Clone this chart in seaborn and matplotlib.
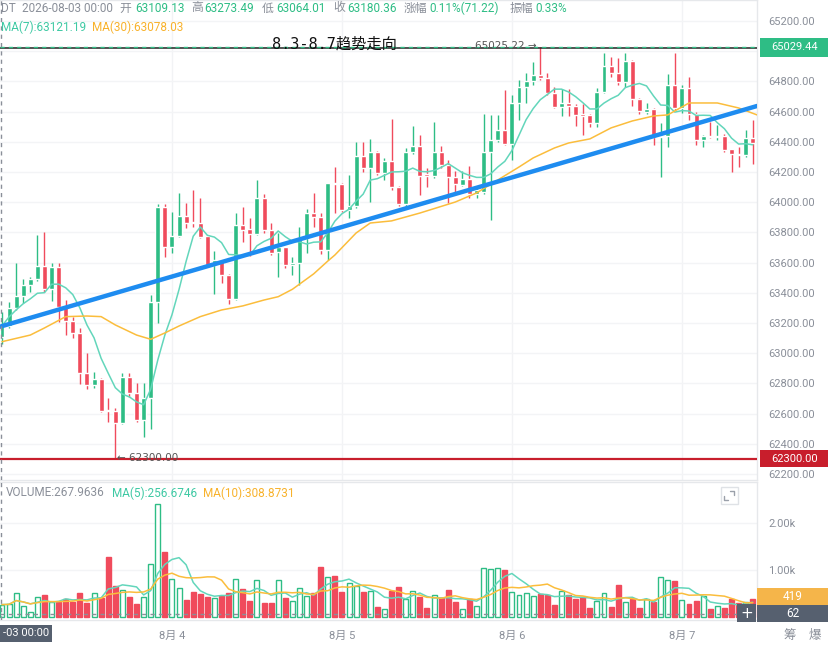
import numpy as np
import pandas as pd
import matplotlib
matplotlib.use('Agg')
import matplotlib.pyplot as plt
from matplotlib.patches import Rectangle
from matplotlib.lines import Line2D
import seaborn as sns

# hourly candles from 2026-08-03 00:00
opens = [63109.13, 63180, 63300, 63380, 63450, 63490, 63580, 63425, 63570, 63305,
         63210, 63135, 62870, 62790, 62830, 62625, 62615, 62540, 62840, 62735,
         62560, 62700, 63340, 63970, 63700, 63775, 63910, 63870, 63860, 63775,
         63585, 63615, 63520, 63360, 63850, 63820, 63790, 64030, 63815, 63670,
         63700, 63585, 63600, 63765, 63930, 63900, 63680, 64130, 64120, 63945,
         63975, 64305, 64225, 64335, 64190, 64275, 64100, 63985, 64330, 64370,
         64185, 64175, 64330, 64245, 64165, 64115, 64155, 64055, 64070, 64330,
         64410, 64480, 64385, 64655, 64765, 64800, 64845, 64820, 64725, 64630,
         64655, 64635, 64585, 64575, 64525, 64730, 64900, 64855, 64795, 64935,
         64685, 64600, 64615, 64430, 64440, 64775, 64625, 64755, 64585, 64415,
         64440, 64430, 64440, 64350, 64320, 64310, 64425]
highs = [63273.49, 63340, 63600, 63490, 63505, 63780, 63800, 63600, 63600, 63350,
         63240, 63165, 63000, 62875, 62835, 62700, 62640, 62870, 62870, 62800,
         62800, 63385, 63985, 63990, 63935, 64060, 63995, 64080, 64030, 63780,
         63675, 63620, 63525, 63930, 63970, 63895, 64150, 64055, 63860, 63795,
         63705, 63635, 63835, 63955, 64060, 63930, 64130, 64235, 64130, 64180,
         64400, 64400, 64420, 64340, 64295, 64550, 64110, 64360, 64505, 64445,
         64225, 64530, 64370, 64280, 64205, 64205, 64240, 64095, 64585, 64580,
         64580, 64745, 64710, 64810, 64855, 64930, 65025.22, 64855, 64760, 64750,
         64750, 64650, 64650, 64585, 64755, 64990, 64960, 64955, 64990, 64940,
         64690, 64655, 64625, 64525, 64850, 64990, 64775, 64830, 64595, 64445,
         64530, 64510, 64450, 64355, 64365, 64480, 64545]
lows = [63064.01, 63165, 63285, 63335, 63405, 63480, 63405, 63345, 63205, 63120,
        63100, 62795, 62760, 62770, 62610, 62545, 62300, 62530, 62710, 62545,
        62445, 62500, 63200, 63640, 63665, 63770, 63830, 63835, 63765, 63570,
        63390, 63465, 63325, 63355, 63735, 63645, 63785, 63795, 63650, 63505,
        63565, 63520, 63450, 63665, 63835, 63655, 63615, 63930, 63935, 63895,
        63960, 64200, 64000, 64180, 64150, 64080, 63975, 63970, 64320, 64050,
        64100, 64160, 64225, 63995, 64055, 64110, 64030, 64030, 64055, 63880,
        64400, 64380, 64280, 64545, 64655, 64775, 64810, 64710, 64625, 64570,
        64570, 64505, 64445, 64500, 64500, 64720, 64830, 64775, 64765, 64635,
        64585, 64585, 64380, 64170, 64365, 64610, 64590, 64545, 64380, 64365,
        64425, 64410, 64330, 64200, 64235, 64300, 64250]
closes = [63180.36, 63300, 63380, 63450, 63490, 63580, 63425, 63570, 63305, 63210,
          63135, 62870, 62790, 62830, 62620, 62615, 62540, 62840, 62735, 62560,
          62700, 63340, 63970, 63700, 63775, 63910, 63865, 63860, 63770, 63585,
          63615, 63520, 63360, 63850, 63815, 63790, 64030, 63815, 63665, 63700,
          63585, 63600, 63765, 63930, 63900, 63680, 64125, 64120, 63945, 63975,
          64305, 64225, 64330, 64190, 64275, 64100, 63985, 64330, 64370, 64175,
          64175, 64330, 64245, 64165, 64120, 64155, 64055, 64080, 64330, 64410,
          64480, 64385, 64655, 64765, 64800, 64845, 64820, 64725, 64630, 64655,
          64635, 64580, 64570, 64525, 64730, 64900, 64855, 64795, 64935, 64685,
          64605, 64615, 64430, 64440, 64775, 64625, 64755, 64585, 64410, 64440,
          64430, 64440, 64345, 64320, 64310, 64425, 64390]
volumes = [267.96, 280, 513, 240, 120, 436, 470, 330, 330, 380,
           330, 507, 296, 520, 402, 1268, 662, 577, 423, 281,
           423, 1120, 2395, 1374, 803, 613, 366, 528, 493, 436,
           402, 450, 520, 803, 598, 345, 789, 296, 296, 789,
           402, 345, 613, 450, 520, 1057, 859, 873, 528, 718,
           662, 528, 556, 211, 169, 556, 634, 387, 556, 436,
           190, 470, 402, 577, 330, 175, 380, 239, 1035, 1025,
           1035, 1000, 535, 470, 513, 450, 493, 470, 260, 556,
           470, 387, 436, 197, 344, 513, 218, 683, 323, 380,
           197, 380, 330, 859, 789, 767, 366, 281, 345, 450,
           175, 239, 197, 387, 296, 330, 387]

# MA(30) line
ma30_idx = [0, 4, 6, 9, 12, 14, 16, 19, 21, 23, 25, 28, 31, 34, 37, 39, 41, 44, 46, 47,
            50, 52, 55, 59, 64, 67, 70, 73, 75, 78, 80, 83, 86, 89, 92, 94, 97, 101, 104, 106.6]
ma30_val = [63076, 63120, 63167, 63242, 63246, 63242, 63187, 63120, 63092, 63134,
            63180, 63242, 63286, 63313, 63352, 63374, 63423, 63525, 63610, 63650,
            63796, 63862, 63876, 63928, 64001, 64061, 64147, 64233, 64293, 64359,
            64392, 64419, 64492, 64538, 64571, 64578, 64657, 64657, 64624, 64578]

trend_x = [-0.3, 106.6]
trend_y = [63175, 64637]
support_price = 62300.00
line_price = 65020
cross_price = 65029.44
high_price = 65025.22
cross_vol = 62
vol_ma_now = 419

day_idx = [24, 48, 72, 96]
day_labels = ['8月 4', '8月 5', '8月 6', '8月 7']
price_ticks = list(range(62200, 65201, 200))
vol_ticks = [1000, 2000]
vol_tick_labels = ['1.00k', '2.00k']

UP = '#2ebd85'
DOWN = '#f04b5c'
GRAY = '#8a8f99'
TEAL = '#63d6bb'
ORANGE = '#fbbd3c'
DARK = '#56606f'

df = pd.DataFrame({'o': opens, 'h': highs, 'l': lows, 'c': closes, 'v': volumes})
df['i'] = np.arange(len(df))
df['up'] = df['c'] >= df['o']
df['ma7'] = df['c'].rolling(7, min_periods=1).mean()
df['vma5'] = df['v'].rolling(5, min_periods=1).mean()
df['vma10'] = df['v'].rolling(10, min_periods=1).mean()

sns.set_style('white')
plt.rcParams['font.family'] = ['Roboto', 'Noto Sans CJK SC', 'DejaVu Sans']

W, H = 829, 650
fig = plt.figure(figsize=(W / 100, H / 100), dpi=100)


def px(x, y):
    return x / W, 1 - y / H


def label_box(x0, y0, x1, y1, fc, text, size=8.5, fam=None):
    fig.add_artist(Rectangle(px(x0, y1), (x1 - x0) / W, (y1 - y0) / H,
                             transform=fig.transFigure, fc=fc, ec='none', zorder=5))
    kw = {'family': fam} if fam else {}
    fig.text(*px((x0 + x1) / 2, (y0 + y1) / 2), text, color='white', fontsize=size,
             ha='center', va='center', zorder=6, **kw)


def fig_line(xs, ys, color, lw=1):
    pts = [px(x, y) for x, y in zip(xs, ys)]
    fig.add_artist(Line2D([p[0] for p in pts], [p[1] for p in pts], color=color, lw=lw,
                          transform=fig.transFigure, zorder=6))


plot_w = 757 / W
ax = fig.add_axes([0, 1 - 480 / H, plot_w, 480 / H])
axv = fig.add_axes([0, 1 - 620 / H, plot_w, 138 / H])

xlim = (-0.28, 106.6)
for a in (ax, axv):
    a.set_xlim(*xlim)
    for s in a.spines.values():
        s.set_color('#e6e8eb')
        s.set_linewidth(1)
    a.spines['left'].set_visible(False)
    a.yaxis.tick_right()
    a.tick_params(length=0, labelsize=8, labelcolor=GRAY, pad=8)
    for d in day_idx:
        a.axvline(d, color='#f2f3f5', lw=1, zorder=0)

ax.set_ylim(62160, 65339)
ax.set_yticks(price_ticks)
ax.set_yticklabels(['' if t == 65000 else f'{t:.2f}' for t in price_ticks])
for t in price_ticks:
    ax.axhline(t, color='#f3f4f6', lw=1, zorder=0)
ax.set_xticks([])

# candles
colors = np.where(df['up'], UP, DOWN)
ax.vlines(df['i'], df['l'], df['h'], colors=colors, lw=1, zorder=2)
body_low = np.minimum(df['o'], df['c'])
body_h = np.maximum(np.abs(df['c'] - df['o']), 6)
ax.bar(df['i'], body_h, bottom=body_low, width=0.7, color=colors, zorder=3)

sns.lineplot(x=df['i'], y=df['ma7'], ax=ax, color=TEAL, lw=1.1, zorder=4)
sns.lineplot(x=ma30_idx, y=ma30_val, ax=ax, color=ORANGE, lw=1.1, zorder=4)
sns.lineplot(x=trend_x, y=trend_y, ax=ax, color='#1e8cf0', lw=3.2, zorder=5)
ax.axhline(support_price, color='#c81e2c', lw=1.6, zorder=5)
ax.axhline(line_price, color='#222222', lw=1.1, zorder=5)
ax.axhline(cross_price, color=UP, lw=1, ls=(0, (3, 3)), zorder=5)
ax.axvline(-0.15, color=GRAY, lw=1, ls=(0, (3, 3)), zorder=6)
ax.set_xlabel('')
ax.set_ylabel('')

# volume
vcol = np.where(df['up'], UP, DOWN)
face = np.where(df['up'], 'white', DOWN)
axv.bar(df['i'], df['v'], width=0.7, color=face, edgecolor=vcol, lw=1, zorder=2)
sns.lineplot(x=df['i'], y=df['vma5'], ax=axv, color=TEAL, lw=1.1, zorder=4)
sns.lineplot(x=df['i'], y=df['vma10'], ax=axv, color=ORANGE, lw=1.1, zorder=4)
axv.set_ylim(-57, 2860)
axv.set_yticks(vol_ticks)
axv.set_yticklabels(vol_tick_labels)
for t in vol_ticks:
    axv.axhline(t, color='#f3f4f6', lw=1, zorder=0)
axv.axhline(cross_vol, color=GRAY, lw=1, ls=(0, (3, 3)), zorder=5)
axv.axvline(-0.15, color=GRAY, lw=1, ls=(0, (3, 3)), zorder=6)
axv.set_xticks(day_idx)
axv.set_xticklabels(day_labels)
axv.tick_params(axis='x', labelsize=8, labelcolor=GRAY, pad=8)
axv.set_xlabel('')
axv.set_ylabel('')

# header texts
hdr = [(1, 'DT', GRAY), (22, '2026-08-03 00:00', GRAY), (119, '开', GRAY),
       (135, f'{opens[0]:.2f}', UP), (191, '高', GRAY), (204, f'{highs[0]:.2f}', UP),
       (262, '低', GRAY), (276, f'{lows[0]:.2f}', UP), (333, '收', GRAY),
       (347, f'{closes[0]:.2f}', UP), (404, '涨幅', GRAY), (429, '0.11%(71.22)', UP),
       (510, '振幅', GRAY), (535, '0.33%', UP)]
for x, s, c in hdr:
    fig.text(*px(x, 8), s, color=c, fontsize=8.5, ha='left', va='center')
fig.text(*px(1, 27), 'MA(7):63121.19', color='#3fc9a4', fontsize=8.5, ha='left', va='center')
fig.text(*px(92, 27), 'MA(30):63078.03', color='#f8b22c', fontsize=8.5, ha='left', va='center')

fig.text(*px(6, 493), 'VOLUME:267.9636', color=GRAY, fontsize=8.5, ha='left', va='center')
fig.text(*px(112, 493), 'MA(5):256.6746', color='#3fc9a4', fontsize=8.5, ha='left', va='center')
fig.text(*px(203, 493), 'MA(10):308.8731', color='#f8b22c', fontsize=8.5, ha='left', va='center')

fig.text(*px(272, 44), '8.3-8.7趋势走向', color='#111111', fontsize=11,
         family=['DejaVu Sans Mono', 'Noto Sans CJK SC'], ha='left', va='center')
fig.text(*px(475, 46), f'{high_price:.2f} →', color='#555555', fontsize=7.5,
         family=['DejaVu Sans'], ha='left', va='center')
fig.text(*px(117, 458), f'← {support_price:.2f}', color='#555555', fontsize=7.5,
         family=['DejaVu Sans'], ha='left', va='center')

# expand icon in the volume panel (drawn as shapes)
fig.add_artist(Rectangle(px(721, 504), 17 / W, 17 / H, transform=fig.transFigure,
                         fc='white', ec='#dfe2e6', lw=1, zorder=5))
fig_line([730, 734, 734], [491, 491, 495], '#9aa0aa')
fig_line([724, 724, 728], [496, 500, 500], '#9aa0aa')

# right side and bottom labels
label_box(760, 38, 829, 57, UP, f'{cross_price:.2f}', size=8)
label_box(760, 450, 829, 467, '#c81e2c', f'{support_price:.2f}', size=8)
label_box(757, 588, 829, 605, '#f5b54a', f'{vol_ma_now}')
label_box(757, 605, 829, 622, DARK, f'{cross_vol}')
label_box(737, 604, 756, 622, DARK, '+', size=11, fam=['DejaVu Sans'])
label_box(0, 625, 52, 642, DARK, '-03 00:00', size=8)
fig.text(*px(790, 635), '筹', color=GRAY, fontsize=9, ha='center', va='center')
fig.text(*px(815, 635), '爆', color=GRAY, fontsize=9, ha='center', va='center')

fig.savefig('out.png', dpi=100)
